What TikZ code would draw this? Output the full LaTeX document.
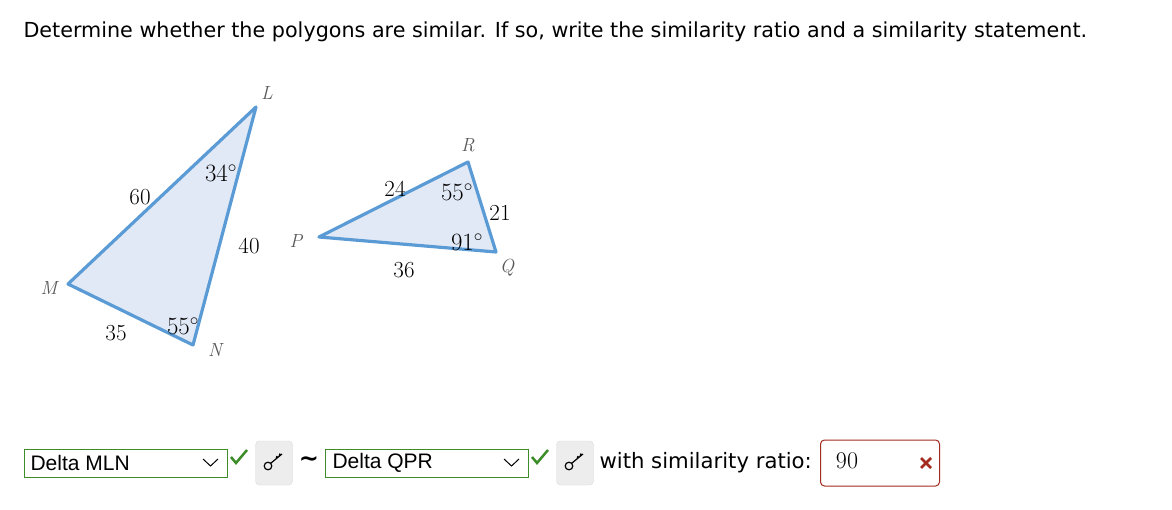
\documentclass[tikz,border=0pt]{standalone}
\usepackage{fontspec}
\setsansfont{DejaVu Sans}
\newfontfamily\arialfont{Liberation Sans}
\usepackage{amsmath}
\definecolor{triblue}{HTML}{5B9BD5}
\definecolor{trifill}{HTML}{E2E9F6}
\definecolor{okgreen}{HTML}{3C8C28}
\definecolor{badred}{HTML}{A32A1E}
\tikzstyle{tri}=[draw=triblue, fill=trifill, line width=3.2pt, line join=round]
\tikzstyle{vlabel}=[font=\fontsize{19}{21}\selectfont\itshape, text=black!65]
\tikzstyle{num}=[font=\fontsize{23}{25}\selectfont]
\tikzstyle{selbox}=[draw=okgreen, line width=1pt, minimum width=203pt, minimum height=28pt, anchor=west]
\tikzstyle{keybtn}=[draw=black!15, fill=black!7, rounded corners=4pt, minimum width=37pt, minimum height=44pt]
\tikzstyle{tick}=[okgreen, line width=2.5pt]
\tikzstyle{keyicon}=[line width=1.2pt]

\begin{document}
\begin{tikzpicture}[x=1pt, y=-1pt]
    \useasboundingbox (0,0) rectangle (1172,510);

    \node[anchor=west, font=\sffamily\fontsize{20.7}{22}\selectfont] (title) at (20,32)
      {Determine whether the polygons are similar. If so, write the similarity ratio and a similarity statement.};

    \coordinate (M) at (68,284);
    \coordinate (L) at (256,107);
    \coordinate (N) at (193,345);
    \draw[tri] (M)--(L)--(N)--cycle;
    \node[vlabel] (labM) at (49,288) {M};
    \node[vlabel] (labL) at (267,93) {L};
    \node[vlabel] (labN) at (215,350) {N};
    \node[num] (s60) at (140,197) {60};
    \node[num] (s40) at (249,246) {40};
    \node[num] (s35) at (116,333) {35};
    \node[num] (aL) at (221,173) {$34^\circ$};
    \node[num] (aN) at (183,326) {$55^\circ$};

    \coordinate (P) at (319,237);
    \coordinate (R) at (468,162);
    \coordinate (Q) at (496,252);
    \draw[tri] (P)--(R)--(Q)--cycle;
    \node[vlabel] (labP) at (296,241) {P};
    \node[vlabel] (labR) at (468,145) {R};
    \node[vlabel] (labQ) at (507,268) {Q};
    \node[num] (s24) at (395,189) {24};
    \node[num] (s21) at (500,213) {21};
    \node[num] (s36) at (404,270) {36};
    \node[num] (aR) at (457,192) {$55^\circ$};
    \node[num] (aQ) at (467,242) {$91^\circ$};

    \node[selbox] (sel1) at (24,463) {};
    \node[anchor=west, font=\arialfont\fontsize{21}{23}\selectfont] (txt1) at (27,463) {Delta MLN};
    \draw[line width=1pt] (203,459)--(210.5,466)--(218,459);
    \draw[tick] (231,457)--(236,463)--(247,450);
    \node[keybtn] (key1) at (274,463) {};
    \draw[keyicon] ([xshift=-6pt,yshift=-3pt]key1.center) circle (3.8pt)
      ([xshift=-3pt,yshift=0pt]key1.center)--([xshift=8pt,yshift=9pt]key1.center)
      ([xshift=2pt,yshift=4pt]key1.center)--([xshift=3pt,yshift=7pt]key1.center)
      ([xshift=5pt,yshift=6.5pt]key1.center)--([xshift=6pt,yshift=9.5pt]key1.center);
    \node[font=\sffamily\bfseries\fontsize{24}{24}\selectfont] (sim) at (309,462) {\textasciitilde};

    \node[selbox] (sel2) at (325,463) {};
    \node[anchor=west, font=\arialfont\fontsize{21}{23}\selectfont] (txt2) at (329,463) {Delta QPR};
    \draw[line width=1pt] (504,459)--(511.5,466)--(519,459);
    \draw[tick] (532,457)--(537,463)--(548,450);
    \node[keybtn] (key2) at (575,463) {};
    \draw[keyicon] ([xshift=-6pt,yshift=-3pt]key2.center) circle (3.8pt)
      ([xshift=-3pt,yshift=0pt]key2.center)--([xshift=8pt,yshift=9pt]key2.center)
      ([xshift=2pt,yshift=4pt]key2.center)--([xshift=3pt,yshift=7pt]key2.center)
      ([xshift=5pt,yshift=6.5pt]key2.center)--([xshift=6pt,yshift=9.5pt]key2.center);

    \node[anchor=west, font=\sffamily\fontsize{21.2}{23}\selectfont] (ratio) at (596,463) {with similarity ratio:};
    \node[draw=badred, line width=1pt, rounded corners=4pt, minimum width=119pt, minimum height=46pt, anchor=west] (ans) at (820,463) {};
    \node[font=\fontsize{24}{26}\selectfont] (val) at (847,461) {90};
    \draw[badred, line width=2.5pt] (921,458)--(931,468) (921,468)--(931,458);
  \end{tikzpicture}
\end{document}
